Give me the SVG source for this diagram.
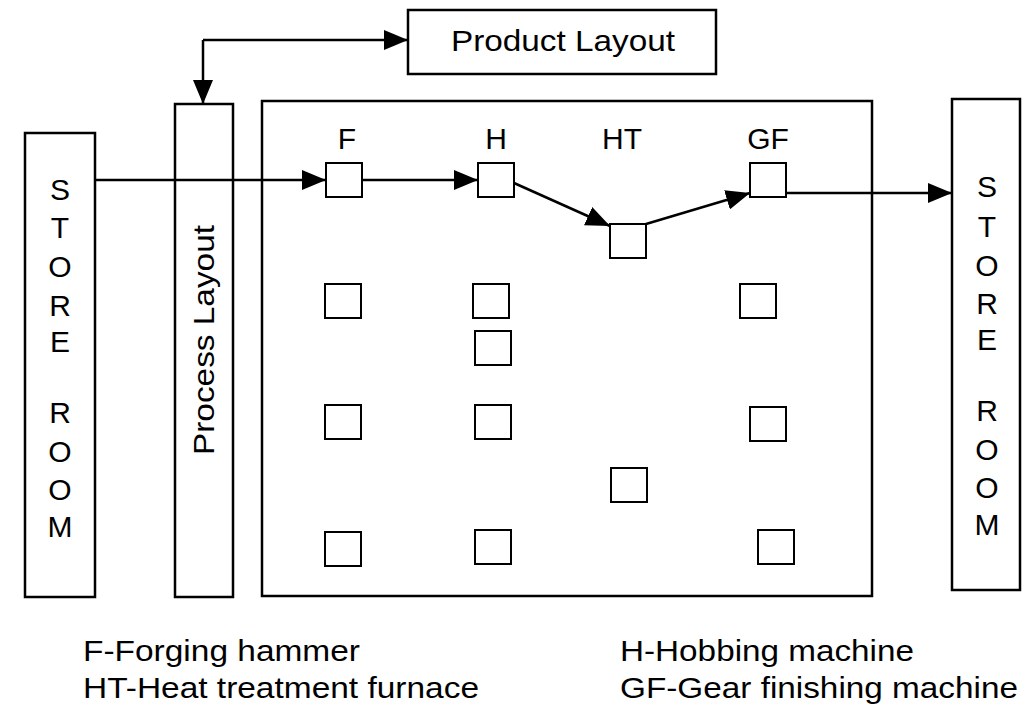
<svg xmlns="http://www.w3.org/2000/svg" width="1027" height="717" viewBox="0 0 1027 717">
<style>
.b{fill:#fff;stroke:#000;stroke-width:2.5}
.m{fill:#fff;stroke:#000;stroke-width:2}
.t{font-family:"Liberation Sans",Arial,sans-serif;font-size:30px;fill:#000}
.c{stroke:#000;stroke-width:2.5;fill:none}
</style>
<defs>
<marker id="ah" viewBox="0 0 24 20" refX="24" refY="10" markerWidth="24" markerHeight="20" orient="auto" markerUnits="userSpaceOnUse"><path d="M0,0L24,10L0,20z"/></marker></defs>
<rect width="1027" height="717" fill="#fff"/>
<g id="store-left"><rect class="b" x="25" y="133" width="70" height="464"/>
<text class="t" text-anchor="middle"><tspan x="60" y="200">S</tspan><tspan x="60" y="238">T</tspan><tspan x="60" y="277">O</tspan><tspan x="60" y="316">R</tspan><tspan x="60" y="352">E</tspan><tspan x="60" y="423">R</tspan><tspan x="60" y="462">O</tspan><tspan x="60" y="500">O</tspan><tspan x="60" y="537">M</tspan></text></g>
<g id="process-layout"><rect class="b" x="175" y="104" width="58" height="493"/>
<text class="t" text-anchor="middle" transform="translate(214,340) rotate(-90)" textLength="230" lengthAdjust="spacingAndGlyphs">Process Layout</text></g>
<g id="product-layout"><rect class="b" x="408" y="10" width="308" height="64"/>
<text class="t" text-anchor="middle" x="563" y="51" textLength="224" lengthAdjust="spacingAndGlyphs">Product Layout</text></g>
<g id="shop"><rect class="b" x="262" y="101" width="610" height="495"/>
<text class="t" text-anchor="middle" x="347" y="149">F</text>
<text class="t" text-anchor="middle" x="496" y="149">H</text>
<text class="t" text-anchor="middle" x="622" y="149">HT</text>
<text class="t" text-anchor="middle" x="768" y="149">GF</text>
<rect class="m" x="326" y="163" width="36" height="34"/>
<rect class="m" x="478" y="163" width="36" height="34"/>
<rect class="m" x="610" y="224" width="36" height="34"/>
<rect class="m" x="750" y="163" width="36" height="34"/>
<rect class="m" x="325" y="284" width="36" height="34"/>
<rect class="m" x="473" y="284" width="36" height="34"/>
<rect class="m" x="740" y="284" width="36" height="34"/>
<rect class="m" x="475" y="331" width="36" height="34"/>
<rect class="m" x="325" y="405" width="36" height="34"/>
<rect class="m" x="475" y="405" width="36" height="34"/>
<rect class="m" x="750" y="407" width="36" height="34"/>
<rect class="m" x="611" y="468" width="36" height="34"/>
<rect class="m" x="325" y="532" width="36" height="34"/>
<rect class="m" x="475" y="530" width="36" height="34"/>
<rect class="m" x="758" y="530" width="36" height="34"/></g>
<g id="store-right"><rect class="b" x="952" y="99" width="68" height="491"/>
<text class="t" text-anchor="middle"><tspan x="987" y="197">S</tspan><tspan x="987" y="237">T</tspan><tspan x="987" y="276">O</tspan><tspan x="987" y="314">R</tspan><tspan x="987" y="350">E</tspan><tspan x="987" y="421">R</tspan><tspan x="987" y="460">O</tspan><tspan x="987" y="498">O</tspan><tspan x="987" y="535">M</tspan></text></g>
<g id="connectors">
<path class="c" d="M203,40H408" marker-end="url(#ah)"/>
<path class="c" d="M203,40V104" marker-end="url(#ah)"/>
<path class="c" d="M95,180H326" marker-end="url(#ah)"/>
<path class="c" d="M362,180H478" marker-end="url(#ah)"/>
<path class="c" d="M514,183L610,226" marker-end="url(#ah)"/>
<path class="c" d="M646,224L750,193" marker-end="url(#ah)"/>
<path class="c" d="M786,193H952" marker-end="url(#ah)"/>
</g>
<g id="legend">
<text class="t" x="83" y="661" textLength="277" lengthAdjust="spacingAndGlyphs">F-Forging hammer</text>
<text class="t" x="83" y="698" textLength="396" lengthAdjust="spacingAndGlyphs">HT-Heat treatment furnace</text>
<text class="t" x="620" y="661" textLength="294" lengthAdjust="spacingAndGlyphs">H-Hobbing machine</text>
<text class="t" x="620" y="698" textLength="398" lengthAdjust="spacingAndGlyphs">GF-Gear finishing machine</text>
</g>
</svg>
